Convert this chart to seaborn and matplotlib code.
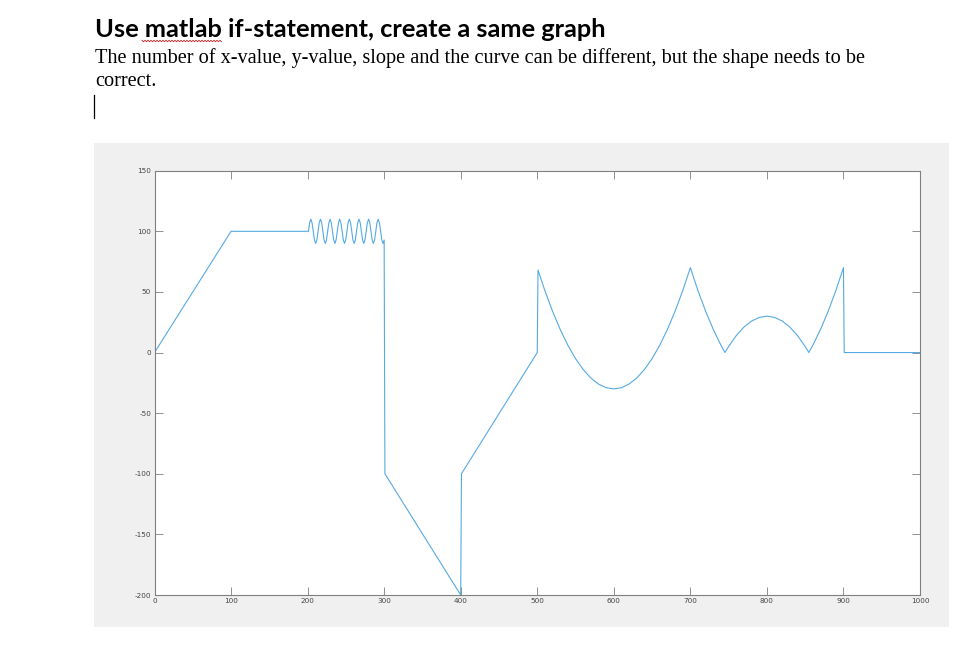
"""
Recreation of a screenshot: MATLAB piecewise plot inside a document page
"""
import matplotlib
matplotlib.use("Agg")
import matplotlib.pyplot as plt
import matplotlib.patches as mpatches
from matplotlib.lines import Line2D
import numpy as np
import seaborn as sns

# --- data -----------------------------------------------------------------
ramp_x = [0, 100, 200]
ramp_y = [0, 100, 100]

wave_x = [201.1, 202.7, 204.2, 205.8, 207.4, 209.0, 210.5, 212.1,
          213.7, 215.2, 216.8, 218.4, 220.0, 221.5, 223.1, 224.7,
          226.2, 227.8, 229.4, 230.9, 232.5, 234.1, 235.7, 237.2,
          238.8, 240.4, 241.9, 243.5, 245.1, 246.7, 248.2, 249.8,
          251.4, 252.9, 254.5, 256.1, 257.7, 259.2, 260.8, 262.4,
          263.9, 265.5, 267.1, 268.7, 270.2, 271.8, 273.4, 274.9,
          276.5, 278.1, 279.7, 281.2, 282.8, 284.4, 285.9, 287.5,
          289.1, 290.6, 292.2, 293.8, 295.4, 296.9, 298.5, 300.0]
wave_y = [100, 107.1, 110, 107.1, 100, 92.9, 90, 92.9,
          100, 107.1, 110, 107.1, 100, 92.9, 90, 92.9,
          100, 107.1, 110, 107.1, 100, 92.9, 90, 92.9,
          100, 107.1, 110, 107.1, 100, 92.9, 90, 92.9,
          100, 107.1, 110, 107.1, 100, 92.9, 90, 92.9,
          100, 107.1, 110, 107.1, 100, 92.9, 90, 92.9,
          100, 107.1, 110, 107.1, 100, 92.9, 90, 92.9,
          100, 107.1, 110, 107.1, 100, 92.9, 90, 92.8]

drop_x = [301, 400, 401, 500]
drop_y = [-100, -200, -100, 0]

bowl_x = [501, 510, 520, 530, 540, 550, 560, 570, 580, 590, 600,
          610, 620, 630, 640, 650, 660, 670, 680, 690, 700]
bowl_y = [68, 51, 34, 19, 6, -5, -14, -21, -26, -29, -30,
          -29, -26, -21, -14, -5, 6, 19, 34, 51, 70]

hump_x = [710, 720, 730, 740, 745.2, 750, 760, 770, 780, 790, 800,
          810, 820, 830, 840, 850, 854.8, 860, 870, 880, 890, 900]
hump_y = [51, 34, 19, 6, 0, 5, 14, 21, 26, 29, 30,
          29, 26, 21, 14, 5, 0, 6, 19, 34, 51, 70]

flat_x = [901, 1000]
flat_y = [0, 0]

x_ticks = list(range(0, 1001, 100))
y_ticks = list(range(-200, 151, 50))

title = "Use matlab if-statement, create a same graph"
body_1 = ("The number of x-value, y-value, slope and the curve can be "
          "different, but the shape needs to be")
body_2 = "correct."

# --- figure -----------------------------------------------------------------
W, H = 968, 656
fig = plt.figure(figsize=(W / 100, H / 100), dpi=100)
fig.patch.set_facecolor("white")

# gray panel behind the matlab axes
fig.add_artist(mpatches.Rectangle((94 / W, 1 - 627 / H), 855 / W, 484 / H,
                                  transform=fig.transFigure,
                                  facecolor="#f0f0f0", edgecolor="none",
                                  zorder=0))

fig.text(95 / W, 1 - 37 / H, title, fontfamily="Lato", fontweight="bold",
         fontsize=18.3, va="baseline", ha="left", color="black")
fig.text(95 / W, 1 - 63 / H, body_1, fontfamily="Liberation Serif",
         fontsize=14.6, va="baseline", ha="left", color="black")
fig.text(95 / W, 1 - 86 / H, body_2, fontfamily="Liberation Serif",
         fontsize=14.6, va="baseline", ha="left", color="black")

# text cursor
fig.add_artist(Line2D([94 / W, 94 / W], [1 - 95 / H, 1 - 118 / H],
                      transform=fig.transFigure, color="black", lw=0.9))

# spell-check squiggle under "matlab"
sq_x = np.arange(142, 223, 1.5)
sq_y = 41 + np.where(np.arange(len(sq_x)) % 2 == 0, -0.7, 0.7)
fig.add_artist(Line2D(sq_x / W, 1 - sq_y / H, transform=fig.transFigure,
                      color="#d02020", lw=0.6))

ax = fig.add_axes([154.5 / W, 1 - 595 / H, (920 - 154.5) / W,
                   (595 - 170.7) / H])
ax.set_facecolor("white")

xs = ramp_x + wave_x + drop_x + bowl_x + hump_x + flat_x
ys = ramp_y + wave_y + drop_y + bowl_y + hump_y + flat_y
sns.lineplot(x=xs, y=ys, sort=False, estimator=None, ax=ax,
             color="#55aae3", linewidth=0.8)

ax.set_xlim(0, 1000)
ax.set_ylim(-200, 150)
ax.set_xticks(x_ticks)
ax.set_yticks(y_ticks)
ax.set_xticklabels([str(v) for v in x_ticks])
ax.set_yticklabels([str(v) for v in y_ticks])
ax.tick_params(axis="both", which="both", direction="in", length=5.5,
               width=0.6, color="#808080", labelsize=5.2,
               labelcolor="#444444", top=True, right=True, pad=2.5)
for side in ax.spines.values():
    side.set_color("#808080")
    side.set_linewidth(0.8)
ax.set_xlabel("")
ax.set_ylabel("")

fig.savefig("out.png", dpi=100, facecolor="white")
